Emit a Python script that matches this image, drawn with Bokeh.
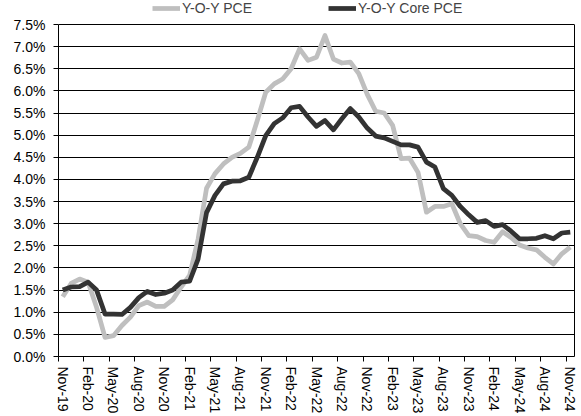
from bokeh.plotting import figure
from bokeh.models import Range1d, FixedTicker, Legend, LegendItem, PrintfTickFormatter, LinearAxis
from bokeh.embed import file_html
from bokeh.resources import INLINE

# Monthly data, Nov-19 .. Nov-24 (year over year, %)
pce = [1.35, 1.65, 1.75, 1.68, 1.11, 0.43, 0.47, 0.70, 0.89, 1.15, 1.23, 1.13, 1.13, 1.28, 1.57, 1.83,
       2.65, 3.80, 4.13, 4.35, 4.50, 4.59, 4.73, 5.33, 5.97, 6.16, 6.27, 6.50, 6.95, 6.69, 6.76, 7.25,
       6.72, 6.63, 6.65, 6.39, 5.92, 5.54, 5.50, 5.22, 4.47, 4.48, 4.16, 3.26, 3.39, 3.39, 3.45, 3.00,
       2.73, 2.71, 2.62, 2.58, 2.82, 2.69, 2.52, 2.45, 2.41, 2.24, 2.09, 2.32, 2.47]
core_pce = [1.50, 1.57, 1.58, 1.68, 1.50, 0.96, 0.96, 0.95, 1.11, 1.33, 1.47, 1.40, 1.43, 1.50, 1.68, 1.70,
            2.20, 3.25, 3.64, 3.90, 3.96, 3.97, 4.05, 4.50, 4.99, 5.26, 5.39, 5.62, 5.65, 5.41, 5.20, 5.33,
            5.12, 5.37, 5.60, 5.41, 5.16, 4.98, 4.94, 4.86, 4.78, 4.78, 4.73, 4.39, 4.28, 3.79, 3.64, 3.39,
            3.20, 3.03, 3.07, 2.94, 2.98, 2.83, 2.66, 2.66, 2.67, 2.73, 2.66, 2.79, 2.81]
x_labels = ["Nov-19", "Feb-20", "May-20", "Aug-20", "Nov-20", "Feb-21", "May-21", "Aug-21",
            "Nov-21", "Feb-22", "May-22", "Aug-22", "Nov-22", "Feb-23", "May-23", "Aug-23",
            "Nov-23", "Feb-24", "May-24", "Aug-24", "Nov-24"]
y_ticks = [0.0, 0.5, 1.0, 1.5, 2.0, 2.5, 3.0, 3.5, 4.0, 4.5, 5.0, 5.5, 6.0, 6.5, 7.0, 7.5]

pce_color = "#BFBFBF"
core_color = "#333333"
font = "Liberation Sans"

y_max = y_ticks[-1]
# frame runs up to the figure top so the legend can sit above the 7.5% line
y_top = y_max * 356 / 332

months = list(range(len(pce)))
label_pos = list(range(0, len(pce), 3))
tick_pos = [i - 0.5 for i in label_pos]

p = figure(width=581, height=416,
           x_range=Range1d(-0.5, len(pce) - 0.5), y_range=Range1d(0, y_top),
           output_backend="svg", toolbar_location=None,
           min_border_left=58, min_border_right=7, min_border_top=0, min_border_bottom=60)
p.outline_line_color = None

# lines
r_pce = p.line(months, pce, line_color=pce_color, line_width=4.75, line_join="round")
r_core = p.line(months, core_pce, line_color=core_color, line_width=4.75, line_join="round")

# y axis
p.yaxis.ticker = FixedTicker(ticks=y_ticks)
p.yaxis.bounds = (0, y_max)
p.yaxis.formatter = PrintfTickFormatter(format="%.1f%%")
p.yaxis.major_tick_out = 5
p.yaxis.major_tick_in = 0
p.yaxis.major_label_standoff = 8
p.yaxis.axis_line_color = "black"
p.yaxis.major_tick_line_color = "black"
p.ygrid.grid_line_color = "black"
p.ygrid.grid_line_alpha = 1
p.xgrid.visible = False

# right border of the plot area
right = LinearAxis(ticker=FixedTicker(ticks=[]), bounds=(0, y_max),
                   major_tick_out=0, major_tick_in=0, minor_tick_out=0, minor_tick_in=0,
                   major_label_standoff=0, axis_line_color="black")
p.add_layout(right, "right")

# x axis: labels centred in month, tick marks on month boundaries
p.xaxis.ticker = FixedTicker(ticks=label_pos, minor_ticks=tick_pos)
p.xaxis.major_label_overrides = dict(zip(label_pos, x_labels))
p.xaxis.major_label_orientation = "vertical"
p.xaxis.major_tick_out = 0
p.xaxis.major_tick_in = 0
p.xaxis.minor_tick_out = 5
p.xaxis.minor_tick_in = 0
p.xaxis.minor_tick_line_color = "black"
p.xaxis.major_label_standoff = 5
p.xaxis.axis_line_color = "black"

for ax in (p.xaxis[0], p.yaxis[0]):
    ax.major_label_text_font = font
    ax.major_label_text_font_size = "14px"
    ax.major_label_text_color = "black"

legend = Legend(items=[LegendItem(label="Y-O-Y PCE", renderers=[r_pce]),
                       LegendItem(label="Y-O-Y Core PCE", renderers=[r_core])],
                orientation="horizontal", location=(94, 340),
                spacing=76, glyph_width=28, glyph_height=14, label_height=14,
                label_standoff=2, padding=0, margin=0,
                border_line_alpha=0, background_fill_alpha=0,
                label_text_font=font, label_text_font_size="14px")
p.add_layout(legend)

open("out.html", "w").write(file_html(p, INLINE))
